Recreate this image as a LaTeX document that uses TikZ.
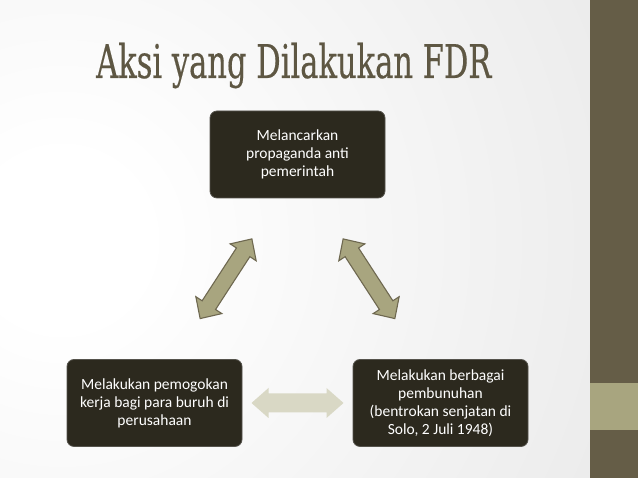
\documentclass[tikz,border=0pt]{standalone}
\usepackage{fontspec}
\setmainfont{Carlito}
\newfontfamily\titlefont[FakeBold=0.4]{DejaVu Serif Condensed}
\usetikzlibrary{calc}
\definecolor{bgedge}{HTML}{D7D7D7}
\definecolor{sidedark}{HTML}{655D47}
\definecolor{sidelight}{HTML}{A8A57F}
\definecolor{titlecol}{HTML}{5E5743}
\definecolor{boxfill}{HTML}{2C291E}
\definecolor{boxline}{HTML}{55534C}
\definecolor{arrfill}{HTML}{A8A57F}
\definecolor{arrline}{HTML}{6E6850}
\definecolor{harrfill}{HTML}{D9D8C5}
\pgfdeclareradialshading{bgshade}{\pgfpoint{0bp}{0bp}}{color(0bp)=(white); color(3bp)=(white); color(40bp)=(bgedge); color(50bp)=(bgedge)}
\newcommand{\fatarrow}[7]{%
\begin{scope}[shift={(#2)}, rotate=#3]
\pgfmathsetmacro\faLh{#4/2}\pgfmathsetmacro\faHh{#5/2}\pgfmathsetmacro\faSh{#6/2}\pgfmathsetmacro\faLb{#4/2-#7}
\path[#1] (-\faLh,0) -- (-\faLb,\faHh) -- (-\faLb,\faSh) -- (\faLb,\faSh) -- (\faLb,\faHh) -- (\faLh,0) -- (\faLb,-\faHh) -- (\faLb,-\faSh) -- (-\faLb,-\faSh) -- (-\faLb,-\faHh) -- cycle;
\end{scope}}
\tikzset{
  box/.style={draw=boxline, line width=0.8pt, fill=boxfill, rounded corners=7pt,
    minimum width=175pt, minimum height=87pt, inner sep=0pt, text=white,
    align=center, font=\fontsize{15.5pt}{18pt}\selectfont},
  diagarrow/.style={fill=arrfill, draw=arrline, line width=1.1pt, line join=miter},
  horizarrow/.style={fill=harrfill},
  titlestyle/.style={text=titlecol, inner sep=0pt, font=\titlefont\fontsize{46.5pt}{50pt}\selectfont}
}
\begin{document}
\begin{tikzpicture}[x=1pt,y=1pt]
\useasboundingbox (0,0) rectangle (638,478);
\begin{scope}
\clip (0,0) rectangle (638,478);
\shade[shading=bgshade] (62,238) circle (700);
\end{scope}
\fill[sidedark] (590,0) rectangle (638,478);
\fill[sidelight] (590,48) rectangle (638,95);
\node[titlestyle, anchor=base west] (title) at (96,400) {\scalebox{0.73}[1]{Aksi yang Dilakukan FDR}};
\node[box] (top) at (297.5,323.5) {Melancarkan\\propaganda anti\\pemerintah};
\node[box] (bl) at (154.5,75) {Melakukan pemogokan\\kerja bagi para buruh di\\perusahaan};
\node[box] (br) at (440.5,75) {Melakukan berbagai\\pembunuhan\\(bentrokan senjatan di\\Solo, 2 Juli 1948)};
\coordinate (arrL) at ($(top)!0.5!(bl)$);
\coordinate (arrR) at ($(top)!0.5!(br)$);
\coordinate (arrB) at ($(bl)!0.5!(br)$);
\fatarrow{diagarrow}{arrL}{57}{95}{31}{16}{16}
\fatarrow{diagarrow}{arrR}{-57}{95}{31}{16}{16}
\fatarrow{horizarrow}{arrB}{0}{92}{30}{19}{17}
\end{tikzpicture}
\end{document}
